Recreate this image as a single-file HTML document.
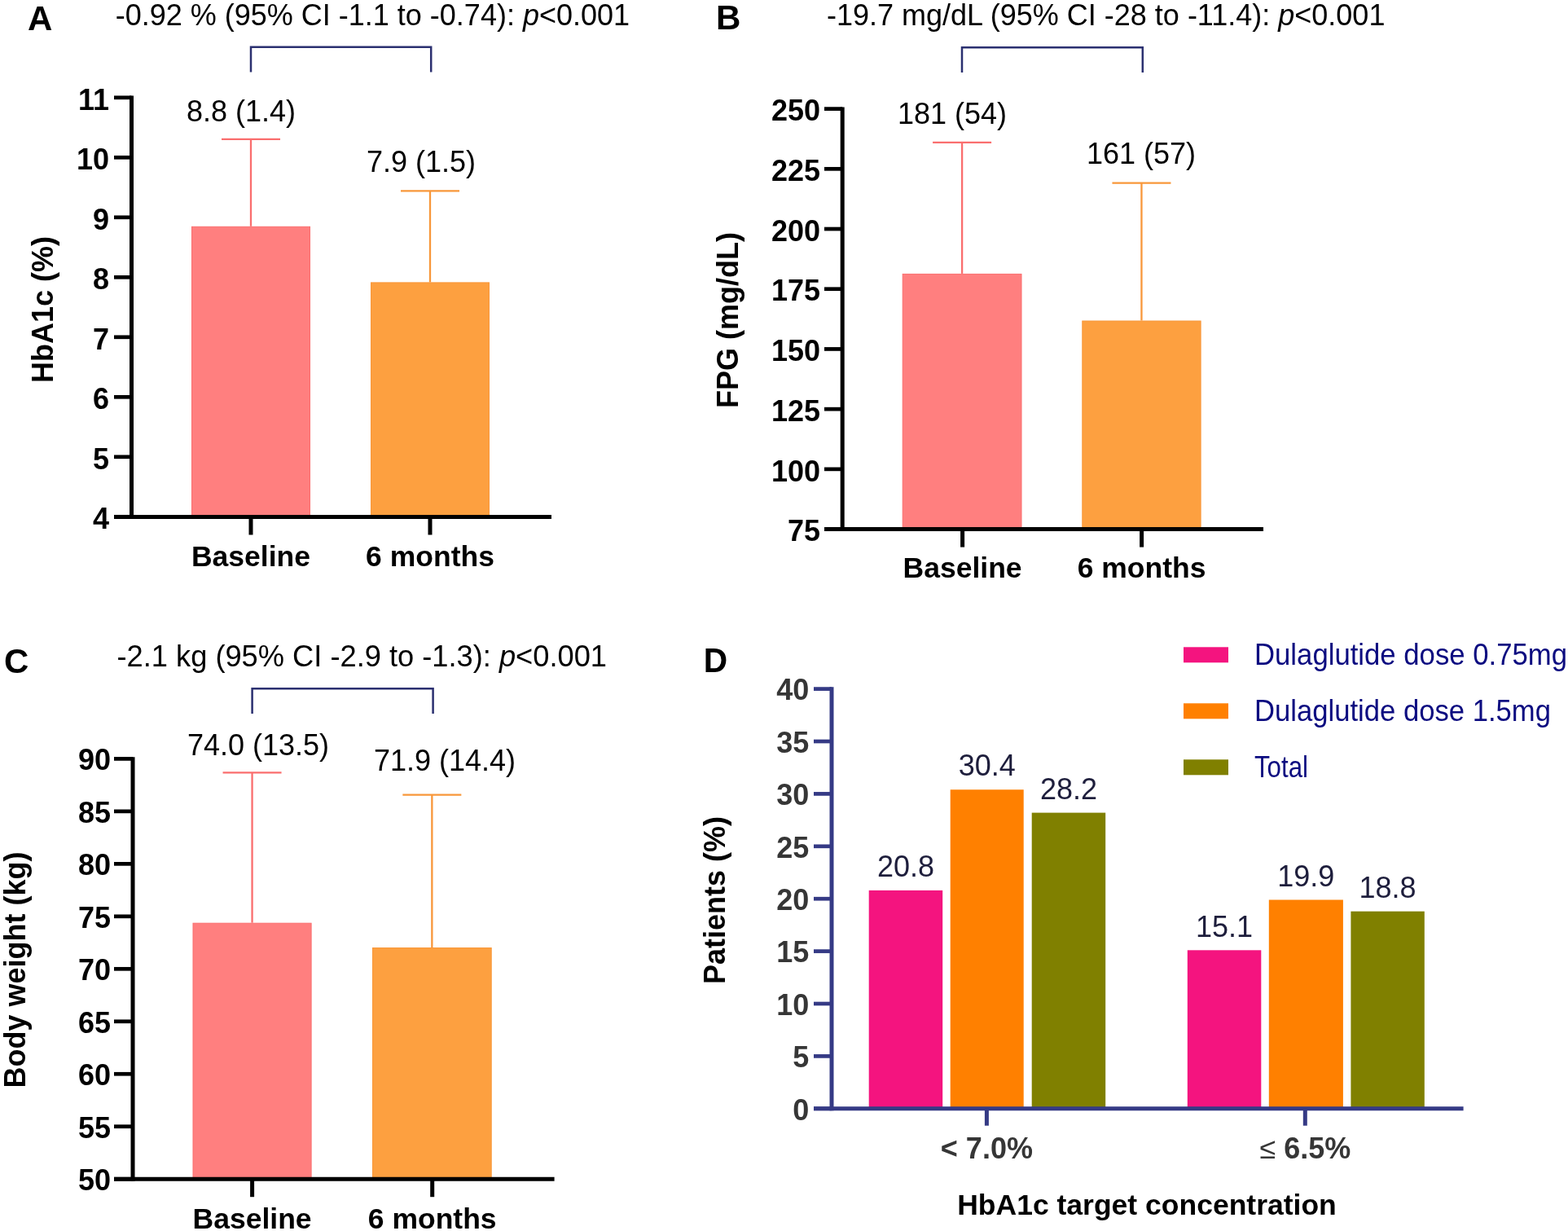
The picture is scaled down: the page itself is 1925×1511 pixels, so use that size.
<!DOCTYPE html>
<html><head><meta charset="utf-8"><style>
html,body{margin:0;padding:0;background:#fff;}
svg{display:block;font-family:"Liberation Sans", Arial, Helvetica, sans-serif;}
</style></head><body>
<svg width="1925" height="1511" viewBox="0 0 1925 1511">
<rect width="1925" height="1511" fill="#fff"/>
<rect x="235.5" y="278.3" width="145" height="356.7" fill="#ff7f7f" stroke="#fa6e6e" stroke-width="1"/>
<line x1="308.0" y1="277.8" x2="308.0" y2="170.8" stroke="#fa6e6e" stroke-width="2.3"/>
<line x1="272.0" y1="170.8" x2="344.0" y2="170.8" stroke="#fa6e6e" stroke-width="2.3"/>
<rect x="455.5" y="346.9" width="145" height="288.1" fill="#fda040" stroke="#f8973a" stroke-width="1"/>
<line x1="528.0" y1="346.4" x2="528.0" y2="234.4" stroke="#f8973a" stroke-width="2.3"/>
<line x1="492.0" y1="234.4" x2="564.0" y2="234.4" stroke="#f8973a" stroke-width="2.3"/>
<line x1="161.5" y1="117.6" x2="161.5" y2="637.0" stroke="#000" stroke-width="5"/>
<line x1="140" y1="119.8" x2="161.5" y2="119.8" stroke="#000" stroke-width="4.7"/>
<text x="134" y="134.5" font-size="36" font-weight="700" text-anchor="end" fill="#000" >11</text>
<line x1="140" y1="193.3" x2="161.5" y2="193.3" stroke="#000" stroke-width="4.7"/>
<text x="134" y="208.0" font-size="36" font-weight="700" text-anchor="end" fill="#000" >10</text>
<line x1="140" y1="266.8" x2="161.5" y2="266.8" stroke="#000" stroke-width="4.7"/>
<text x="134" y="281.5" font-size="36" font-weight="700" text-anchor="end" fill="#000" >9</text>
<line x1="140" y1="340.3" x2="161.5" y2="340.3" stroke="#000" stroke-width="4.7"/>
<text x="134" y="355.0" font-size="36" font-weight="700" text-anchor="end" fill="#000" >8</text>
<line x1="140" y1="413.8" x2="161.5" y2="413.8" stroke="#000" stroke-width="4.7"/>
<text x="134" y="428.5" font-size="36" font-weight="700" text-anchor="end" fill="#000" >7</text>
<line x1="140" y1="487.3" x2="161.5" y2="487.3" stroke="#000" stroke-width="4.7"/>
<text x="134" y="502.0" font-size="36" font-weight="700" text-anchor="end" fill="#000" >6</text>
<line x1="140" y1="560.8" x2="161.5" y2="560.8" stroke="#000" stroke-width="4.7"/>
<text x="134" y="575.5" font-size="36" font-weight="700" text-anchor="end" fill="#000" >5</text>
<line x1="140" y1="634.3" x2="161.5" y2="634.3" stroke="#000" stroke-width="4.7"/>
<text x="134" y="649.0" font-size="36" font-weight="700" text-anchor="end" fill="#000" >4</text>
<line x1="140" y1="634.5" x2="677" y2="634.5" stroke="#000" stroke-width="5"/>
<line x1="308" y1="634.5" x2="308" y2="656.5" stroke="#000" stroke-width="5"/>
<line x1="528" y1="634.5" x2="528" y2="656.5" stroke="#000" stroke-width="5"/>
<text x="308" y="694.7" font-size="35.5" font-weight="700" text-anchor="middle" fill="#000" >Baseline</text>
<text x="528" y="694.7" font-size="35.5" font-weight="700" text-anchor="middle" fill="#000" >6 months</text>
<text x="296" y="149.2" font-size="36" font-weight="400" text-anchor="middle" fill="#000" >8.8 (1.4)</text>
<text x="517" y="210.6" font-size="36" font-weight="400" text-anchor="middle" fill="#000" >7.9 (1.5)</text>
<text x="141.7" y="30.8" font-size="36" font-weight="400" text-anchor="start" fill="#000" >-0.92 % (95% CI -1.1 to -0.74): <tspan font-style="italic">p</tspan>&lt;0.001</text>
<polyline points="308,88.5 308,57.8 529.2,57.8 529.2,88.5" fill="none" stroke="#2b3070" stroke-width="2.5"/>
<text x="34" y="36.8" font-size="42" font-weight="700" text-anchor="start" fill="#000" >A</text>
<text x="65" y="380" font-size="36" font-weight="700" text-anchor="middle" fill="#000" transform="rotate(-90 65 380)">HbA1c (%)</text>
<rect x="1108.2" y="336.4" width="145.79999999999995" height="313.70000000000005" fill="#ff7f7f" stroke="#fa6e6e" stroke-width="1"/>
<line x1="1181.1" y1="335.9" x2="1181.1" y2="174.8" stroke="#fa6e6e" stroke-width="2.3"/>
<line x1="1145.1" y1="174.8" x2="1217.1" y2="174.8" stroke="#fa6e6e" stroke-width="2.3"/>
<rect x="1328.8" y="394.0" width="145.29999999999995" height="256.1" fill="#fda040" stroke="#f8973a" stroke-width="1"/>
<line x1="1401.4499999999998" y1="393.5" x2="1401.4499999999998" y2="224.7" stroke="#f8973a" stroke-width="2.3"/>
<line x1="1365.4499999999998" y1="224.7" x2="1437.4499999999998" y2="224.7" stroke="#f8973a" stroke-width="2.3"/>
<line x1="1034.2" y1="131.4" x2="1034.2" y2="652.1" stroke="#000" stroke-width="5"/>
<line x1="1012" y1="133.6" x2="1034.2" y2="133.6" stroke="#000" stroke-width="4.7"/>
<text x="1007" y="148.29999999999998" font-size="36" font-weight="700" text-anchor="end" fill="#000" >250</text>
<line x1="1012" y1="207.31" x2="1034.2" y2="207.31" stroke="#000" stroke-width="4.7"/>
<text x="1007" y="222.01" font-size="36" font-weight="700" text-anchor="end" fill="#000" >225</text>
<line x1="1012" y1="281.02" x2="1034.2" y2="281.02" stroke="#000" stroke-width="4.7"/>
<text x="1007" y="295.71999999999997" font-size="36" font-weight="700" text-anchor="end" fill="#000" >200</text>
<line x1="1012" y1="354.73" x2="1034.2" y2="354.73" stroke="#000" stroke-width="4.7"/>
<text x="1007" y="369.43" font-size="36" font-weight="700" text-anchor="end" fill="#000" >175</text>
<line x1="1012" y1="428.43999999999994" x2="1034.2" y2="428.43999999999994" stroke="#000" stroke-width="4.7"/>
<text x="1007" y="443.13999999999993" font-size="36" font-weight="700" text-anchor="end" fill="#000" >150</text>
<line x1="1012" y1="502.15" x2="1034.2" y2="502.15" stroke="#000" stroke-width="4.7"/>
<text x="1007" y="516.85" font-size="36" font-weight="700" text-anchor="end" fill="#000" >125</text>
<line x1="1012" y1="575.86" x2="1034.2" y2="575.86" stroke="#000" stroke-width="4.7"/>
<text x="1007" y="590.5600000000001" font-size="36" font-weight="700" text-anchor="end" fill="#000" >100</text>
<line x1="1012" y1="649.5699999999999" x2="1034.2" y2="649.5699999999999" stroke="#000" stroke-width="4.7"/>
<text x="1007" y="664.27" font-size="36" font-weight="700" text-anchor="end" fill="#000" >75</text>
<line x1="1012" y1="649.6" x2="1551" y2="649.6" stroke="#000" stroke-width="5"/>
<line x1="1181.6" y1="649.6" x2="1181.6" y2="671.6" stroke="#000" stroke-width="5"/>
<line x1="1401.6" y1="649.6" x2="1401.6" y2="671.6" stroke="#000" stroke-width="5"/>
<text x="1181.6" y="709" font-size="35.5" font-weight="700" text-anchor="middle" fill="#000" >Baseline</text>
<text x="1401.6" y="709" font-size="35.5" font-weight="700" text-anchor="middle" fill="#000" >6 months</text>
<text x="1169" y="151.8" font-size="36" font-weight="400" text-anchor="middle" fill="#000" >181 (54)</text>
<text x="1401" y="201" font-size="36" font-weight="400" text-anchor="middle" fill="#000" >161 (57)</text>
<text x="1015" y="31" font-size="36" font-weight="400" text-anchor="start" fill="#000" >-19.7 mg/dL (95% CI -28 to -11.4): <tspan font-style="italic">p</tspan>&lt;0.001</text>
<polyline points="1181,89 1181,58.3 1402.8,58.3 1402.8,89" fill="none" stroke="#2b3070" stroke-width="2.5"/>
<text x="879" y="36" font-size="42" font-weight="700" text-anchor="start" fill="#000" >B</text>
<text x="905.5" y="393" font-size="36" font-weight="700" text-anchor="middle" fill="#000" transform="rotate(-90 905.5 393)">FPG (mg/dL)</text>
<rect x="237.0" y="1133.2" width="145.10000000000002" height="314.5" fill="#ff7f7f" stroke="#fa6e6e" stroke-width="1"/>
<line x1="309.55" y1="1132.7" x2="309.55" y2="948.3" stroke="#fa6e6e" stroke-width="2.3"/>
<line x1="273.55" y1="948.3" x2="345.55" y2="948.3" stroke="#fa6e6e" stroke-width="2.3"/>
<rect x="457.5" y="1163.5" width="145.70000000000005" height="284.20000000000005" fill="#fda040" stroke="#f8973a" stroke-width="1"/>
<line x1="530.35" y1="1163" x2="530.35" y2="975.6" stroke="#f8973a" stroke-width="2.3"/>
<line x1="494.35" y1="975.6" x2="566.35" y2="975.6" stroke="#f8973a" stroke-width="2.3"/>
<line x1="163" y1="929.1999999999999" x2="163" y2="1449.7" stroke="#000" stroke-width="5"/>
<line x1="140" y1="931.4" x2="163" y2="931.4" stroke="#000" stroke-width="4.7"/>
<text x="136" y="945.1999999999999" font-size="36" font-weight="700" text-anchor="end" fill="#000" >90</text>
<line x1="140" y1="995.875" x2="163" y2="995.875" stroke="#000" stroke-width="4.7"/>
<text x="136" y="1009.675" font-size="36" font-weight="700" text-anchor="end" fill="#000" >85</text>
<line x1="140" y1="1060.35" x2="163" y2="1060.35" stroke="#000" stroke-width="4.7"/>
<text x="136" y="1074.1499999999999" font-size="36" font-weight="700" text-anchor="end" fill="#000" >80</text>
<line x1="140" y1="1124.825" x2="163" y2="1124.825" stroke="#000" stroke-width="4.7"/>
<text x="136" y="1138.625" font-size="36" font-weight="700" text-anchor="end" fill="#000" >75</text>
<line x1="140" y1="1189.3" x2="163" y2="1189.3" stroke="#000" stroke-width="4.7"/>
<text x="136" y="1203.1" font-size="36" font-weight="700" text-anchor="end" fill="#000" >70</text>
<line x1="140" y1="1253.775" x2="163" y2="1253.775" stroke="#000" stroke-width="4.7"/>
<text x="136" y="1267.575" font-size="36" font-weight="700" text-anchor="end" fill="#000" >65</text>
<line x1="140" y1="1318.25" x2="163" y2="1318.25" stroke="#000" stroke-width="4.7"/>
<text x="136" y="1332.05" font-size="36" font-weight="700" text-anchor="end" fill="#000" >60</text>
<line x1="140" y1="1382.725" x2="163" y2="1382.725" stroke="#000" stroke-width="4.7"/>
<text x="136" y="1396.5249999999999" font-size="36" font-weight="700" text-anchor="end" fill="#000" >55</text>
<line x1="140" y1="1447.1999999999998" x2="163" y2="1447.1999999999998" stroke="#000" stroke-width="4.7"/>
<text x="136" y="1460.9999999999998" font-size="36" font-weight="700" text-anchor="end" fill="#000" >50</text>
<line x1="140" y1="1447.2" x2="680.6" y2="1447.2" stroke="#000" stroke-width="5"/>
<line x1="309.6" y1="1447.2" x2="309.6" y2="1469.2" stroke="#000" stroke-width="5"/>
<line x1="530.7" y1="1447.2" x2="530.7" y2="1469.2" stroke="#000" stroke-width="5"/>
<text x="309.6" y="1507.5" font-size="35.5" font-weight="700" text-anchor="middle" fill="#000" >Baseline</text>
<text x="530.7" y="1507.5" font-size="35.5" font-weight="700" text-anchor="middle" fill="#000" >6 months</text>
<text x="317" y="926.5" font-size="36" font-weight="400" text-anchor="middle" fill="#000" >74.0 (13.5)</text>
<text x="546" y="945.5" font-size="36" font-weight="400" text-anchor="middle" fill="#000" >71.9 (14.4)</text>
<text x="143.5" y="817.8" font-size="36.25" font-weight="400" text-anchor="start" fill="#000" >-2.1 kg (95% CI -2.9 to -1.3): <tspan font-style="italic">p</tspan>&lt;0.001</text>
<polyline points="309.6,876 309.6,845.2 531.6,845.2 531.6,876" fill="none" stroke="#2b3070" stroke-width="2.5"/>
<text x="5" y="825.6" font-size="42" font-weight="700" text-anchor="start" fill="#000" >C</text>
<text x="31" y="1190.5" font-size="36" font-weight="700" text-anchor="middle" fill="#000" transform="rotate(-90 31 1190.5)">Body weight (kg)</text>
<rect x="1066.7" y="1092.896" width="90.5" height="267.904" fill="#f4147f"/>
<text x="1111.95" y="1076.096" font-size="36" font-weight="400" text-anchor="middle" fill="#1e1e3c" >20.8</text>
<rect x="1166.7" y="969.2479999999999" width="90.0" height="391.552" fill="#ff8000"/>
<text x="1211.7" y="952.448" font-size="36" font-weight="400" text-anchor="middle" fill="#1e1e3c" >30.4</text>
<rect x="1266.7" y="997.584" width="90.5" height="363.216" fill="#808000"/>
<text x="1311.95" y="980.784" font-size="36" font-weight="400" text-anchor="middle" fill="#1e1e3c" >28.2</text>
<rect x="1457.8" y="1166.312" width="90.5" height="194.48800000000006" fill="#f4147f"/>
<text x="1503.05" y="1149.512" font-size="36" font-weight="400" text-anchor="middle" fill="#1e1e3c" >15.1</text>
<rect x="1557.8" y="1104.4879999999998" width="91.10000000000014" height="256.3120000000001" fill="#ff8000"/>
<text x="1603.35" y="1087.6879999999999" font-size="36" font-weight="400" text-anchor="middle" fill="#1e1e3c" >19.9</text>
<rect x="1658.4" y="1118.656" width="90.39999999999986" height="242.144" fill="#808000"/>
<text x="1703.6" y="1101.856" font-size="36" font-weight="400" text-anchor="middle" fill="#1e1e3c" >18.8</text>
<line x1="1021" y1="843.3" x2="1021" y2="1363.3" stroke="#353a85" stroke-width="5"/>
<line x1="999" y1="1360.8" x2="1021" y2="1360.8" stroke="#353a85" stroke-width="4.7"/>
<text x="993.2" y="1374.5" font-size="36" font-weight="700" text-anchor="end" fill="#363636" >0</text>
<line x1="999" y1="1296.3999999999999" x2="1021" y2="1296.3999999999999" stroke="#353a85" stroke-width="4.7"/>
<text x="993.2" y="1310.1" font-size="36" font-weight="700" text-anchor="end" fill="#363636" >5</text>
<line x1="999" y1="1232.0" x2="1021" y2="1232.0" stroke="#353a85" stroke-width="4.7"/>
<text x="993.2" y="1245.7" font-size="36" font-weight="700" text-anchor="end" fill="#363636" >10</text>
<line x1="999" y1="1167.6" x2="1021" y2="1167.6" stroke="#353a85" stroke-width="4.7"/>
<text x="993.2" y="1181.3" font-size="36" font-weight="700" text-anchor="end" fill="#363636" >15</text>
<line x1="999" y1="1103.1999999999998" x2="1021" y2="1103.1999999999998" stroke="#353a85" stroke-width="4.7"/>
<text x="993.2" y="1116.8999999999999" font-size="36" font-weight="700" text-anchor="end" fill="#363636" >20</text>
<line x1="999" y1="1038.8" x2="1021" y2="1038.8" stroke="#353a85" stroke-width="4.7"/>
<text x="993.2" y="1052.5" font-size="36" font-weight="700" text-anchor="end" fill="#363636" >25</text>
<line x1="999" y1="974.3999999999999" x2="1021" y2="974.3999999999999" stroke="#353a85" stroke-width="4.7"/>
<text x="993.2" y="988.0999999999999" font-size="36" font-weight="700" text-anchor="end" fill="#363636" >30</text>
<line x1="999" y1="910.0" x2="1021" y2="910.0" stroke="#353a85" stroke-width="4.7"/>
<text x="993.2" y="923.7" font-size="36" font-weight="700" text-anchor="end" fill="#363636" >35</text>
<line x1="999" y1="845.5999999999999" x2="1021" y2="845.5999999999999" stroke="#353a85" stroke-width="4.7"/>
<text x="993.2" y="859.3" font-size="36" font-weight="700" text-anchor="end" fill="#363636" >40</text>
<line x1="999" y1="1360.8" x2="1796.6" y2="1360.8" stroke="#353a85" stroke-width="5"/>
<line x1="1211.4" y1="1360.8" x2="1211.4" y2="1381.7" stroke="#353a85" stroke-width="5"/>
<line x1="1602.3" y1="1360.8" x2="1602.3" y2="1381.7" stroke="#353a85" stroke-width="5"/>
<text x="1211.4" y="1422" font-size="36" font-weight="700" text-anchor="middle" fill="#363636" >&lt; 7.0%</text>
<text x="1602.3" y="1422" font-size="36" font-weight="700" text-anchor="middle" fill="#363636" ><tspan font-weight="400">≤</tspan> 6.5%</text>
<text x="1408" y="1491" font-size="35.5" font-weight="700" text-anchor="middle" fill="#000" >HbA1c target concentration</text>
<text x="890.2" y="1105" font-size="36" font-weight="700" text-anchor="middle" fill="#000" transform="rotate(-90 890.2 1105)">Patients (%)</text>
<text x="863.8" y="825.1" font-size="43" font-weight="700" text-anchor="start" fill="#000" textLength="29.4" lengthAdjust="spacingAndGlyphs">D</text>
<rect x="1453" y="794.3" width="55" height="19" fill="#f4147f"/>
<text x="1540" y="816.3" font-size="36" font-weight="400" text-anchor="start" fill="#0c0c80" textLength="384" lengthAdjust="spacingAndGlyphs">Dulaglutide dose 0.75mg</text>
<rect x="1453" y="863.3" width="55" height="19" fill="#ff8000"/>
<text x="1540" y="885.3" font-size="36" font-weight="400" text-anchor="start" fill="#0c0c80" textLength="364" lengthAdjust="spacingAndGlyphs">Dulaglutide dose 1.5mg</text>
<rect x="1453" y="932.3" width="55" height="19" fill="#808000"/>
<text x="1540" y="954.3" font-size="36" font-weight="400" text-anchor="start" fill="#0c0c80" textLength="66" lengthAdjust="spacingAndGlyphs">Total</text>
</svg></body></html>
